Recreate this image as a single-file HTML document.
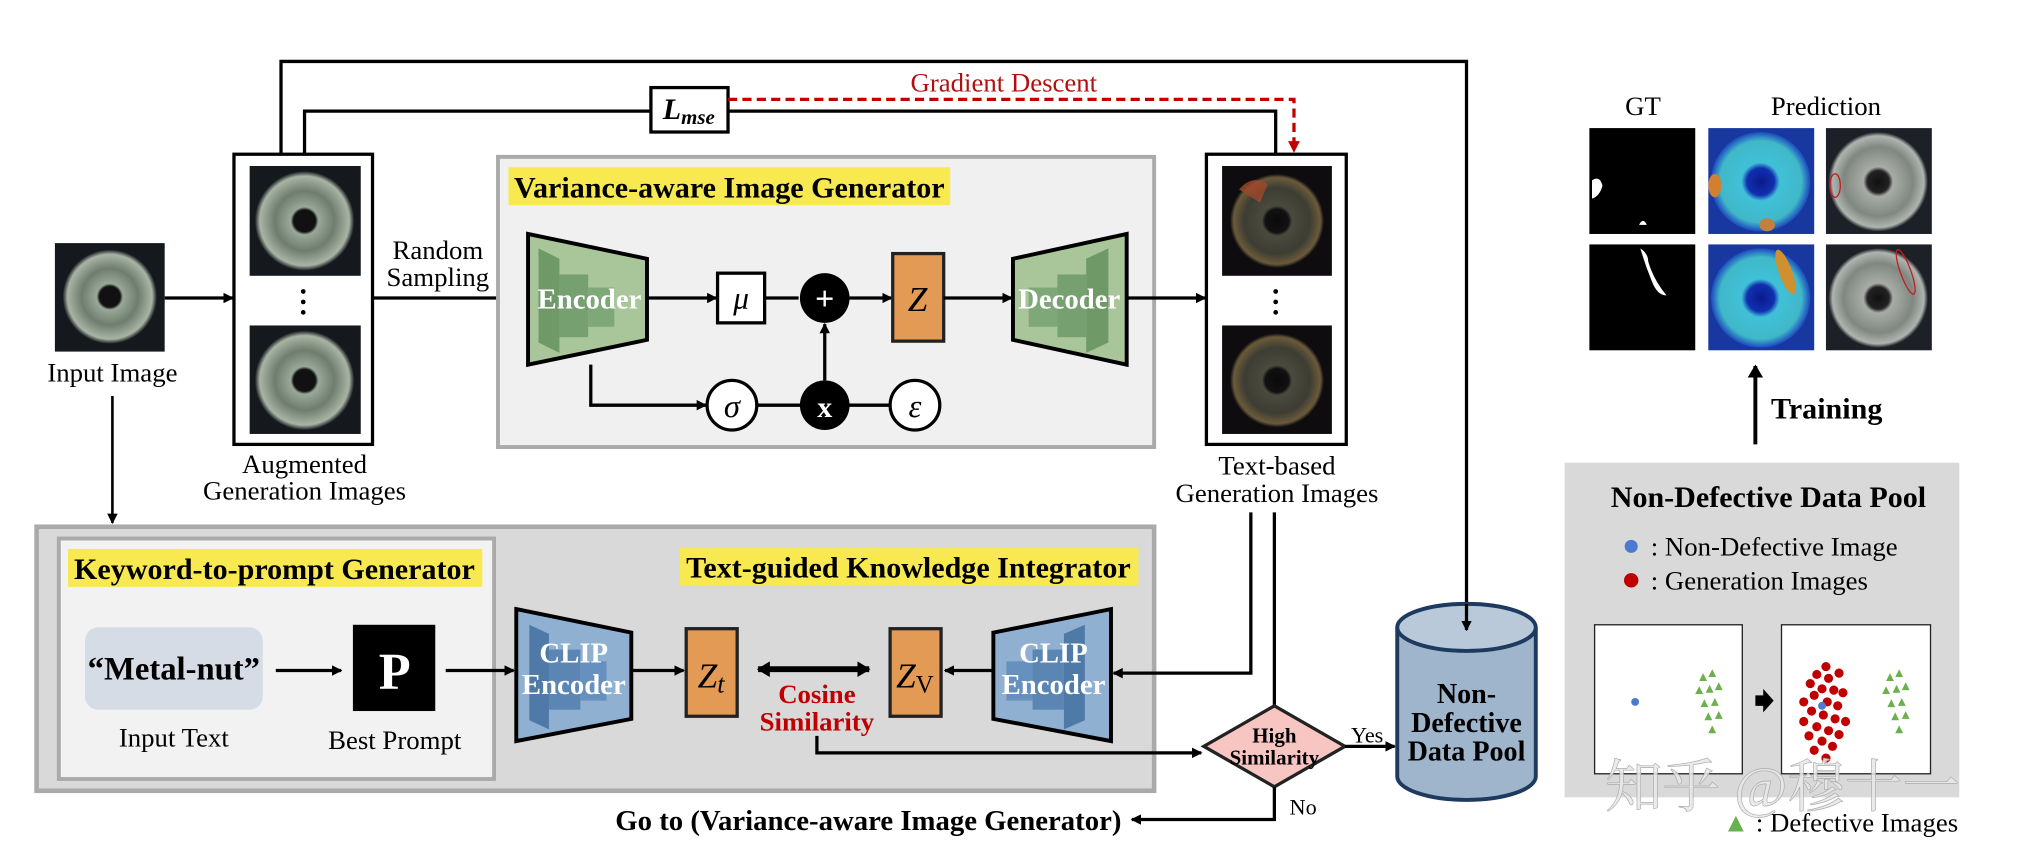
<!DOCTYPE html>
<html><head><meta charset="utf-8"><style>
html,body{margin:0;padding:0;background:#fff;}
svg{display:block;}
text{font-family:"Liberation Serif","Noto Serif CJK SC",serif;}
</style></head><body>
<svg width="2039" height="859" viewBox="0 0 1560 657.2" preserveAspectRatio="none" xmlns="http://www.w3.org/2000/svg">
<defs>
<marker id="ah" markerWidth="8" markerHeight="8" refX="7" refY="4" orient="auto" markerUnits="userSpaceOnUse"><path d="M0,0 L8,4 L0,8 Z" fill="#000"/></marker>
<marker id="ahr" markerWidth="9" markerHeight="9" refX="8" refY="4.5" orient="auto" markerUnits="userSpaceOnUse"><path d="M0,0 L9,4.5 L0,9 Z" fill="#c00000"/></marker>
<marker id="ahb" markerWidth="10" markerHeight="12" refX="9" refY="6" orient="auto" markerUnits="userSpaceOnUse"><path d="M0,0 L10,6 L0,12 Z" fill="#000"/></marker>
<marker id="ahbs" markerWidth="10" markerHeight="12" refX="1" refY="6" orient="auto" markerUnits="userSpaceOnUse"><path d="M10,0 L0,6 L10,12 Z" fill="#000"/></marker>
<radialGradient id="nut" cx="50%" cy="50%" r="50%"><stop offset="0" stop-color="#111"/><stop offset="0.22" stop-color="#111"/><stop offset="0.28" stop-color="#9aa89a"/><stop offset="0.6" stop-color="#6f7d6e"/><stop offset="0.9" stop-color="#a8b4a4"/><stop offset="1" stop-color="#1a1d22"/></radialGradient>
<radialGradient id="nut2" cx="50%" cy="50%" r="50%"><stop offset="0" stop-color="#0a0a0a"/><stop offset="0.25" stop-color="#111"/><stop offset="0.32" stop-color="#4a4a3e"/><stop offset="0.7" stop-color="#3d3d33"/><stop offset="0.92" stop-color="#6b5a3a"/><stop offset="1" stop-color="#0c0c10"/></radialGradient>
<radialGradient id="heat" cx="50%" cy="50%" r="55%"><stop offset="0" stop-color="#0a1a8a"/><stop offset="0.25" stop-color="#1030b0"/><stop offset="0.35" stop-color="#40c0d8"/><stop offset="0.75" stop-color="#40b8c8"/><stop offset="0.9" stop-color="#1f50c0"/><stop offset="1" stop-color="#1838a0"/></radialGradient>
<radialGradient id="ovl" cx="50%" cy="50%" r="50%"><stop offset="0" stop-color="#111"/><stop offset="0.22" stop-color="#222"/><stop offset="0.3" stop-color="#a8aca8"/><stop offset="0.7" stop-color="#808780"/><stop offset="0.92" stop-color="#b0b4b0"/><stop offset="1" stop-color="#22252a"/></radialGradient>
</defs>

<!-- top connectors -->
<polyline points="215,118 215,47 1122,47 1122,470" fill="none" stroke="#000" stroke-width="2.5" marker-end="url(#ah)"/>
<polyline points="233,118 233,85 976,85 976,118" fill="none" stroke="#000" stroke-width="2.5"/>
<rect x="498" y="67" width="59" height="34" fill="#fff" stroke="#000" stroke-width="2.5"/>
<text x="527" y="91" font-size="23" font-weight="bold" font-style="italic" text-anchor="middle">L<tspan font-size="16" dy="4">mse</tspan></text>
<polyline points="557,76 990,76 990,116" fill="none" stroke="#c00000" stroke-width="2.5" stroke-dasharray="7,4" marker-end="url(#ahr)"/>
<text x="768" y="70" font-size="20.5" fill="#b01010" text-anchor="middle">Gradient Descent</text>

<!-- input image -->
<rect x="42" y="186" width="84" height="83" fill="#15181d"/>
<circle cx="84" cy="227" r="36" fill="url(#nut)"/>
<text x="86" y="292" font-size="20.5" text-anchor="middle">Input Image</text>
<line x1="86" y1="303" x2="86" y2="400" stroke="#000" stroke-width="2" marker-end="url(#ah)"/>
<line x1="126" y1="228" x2="178" y2="228" stroke="#000" stroke-width="2.5" marker-end="url(#ah)"/>

<!-- augmented -->
<rect x="179" y="118" width="106" height="222" fill="#fff" stroke="#000" stroke-width="2.5"/>
<rect x="191" y="127" width="85" height="84" fill="#15181d"/><circle cx="233" cy="169" r="38" fill="url(#nut)"/>
<rect x="191" y="249" width="85" height="83" fill="#15181d"/><circle cx="233" cy="291" r="38" fill="url(#nut)"/>
<circle cx="232" cy="223" r="1.8"/><circle cx="232" cy="231" r="1.8"/><circle cx="232" cy="239" r="1.8"/>
<text x="233" y="362" font-size="20.5" text-anchor="middle">Augmented</text>
<text x="233" y="382" font-size="20.5" text-anchor="middle">Generation Images</text>
<text x="335" y="198" font-size="20.5" text-anchor="middle">Random</text>
<text x="335" y="219" font-size="20.5" text-anchor="middle">Sampling</text>
<line x1="285" y1="228" x2="403" y2="228" stroke="#000" stroke-width="2.5" marker-end="url(#ah)"/>

<!-- variance box -->
<rect x="381" y="120" width="502" height="222" fill="#f0f0f0" stroke="#aaa" stroke-width="3"/>
<rect x="389" y="128" width="338" height="29" fill="#f7e94f"/>
<text x="558" y="151" font-size="23" font-weight="bold" text-anchor="middle">Variance-aware Image Generator</text>
<!-- encoder -->
<polygon points="404,179 495,198 495,260 404,279" fill="#a9c59a" stroke="#000" stroke-width="3"/>
<polygon points="412,190 428,198 428,270 412,262" fill="#6f9a68"/>
<rect x="428" y="210" width="22" height="48" fill="#76a070"/><rect x="450" y="220" width="20" height="30" fill="#7ea878"/>
<text x="451" y="236" font-size="22" font-weight="bold" fill="#fff" text-anchor="middle">Encoder</text>
<line x1="495" y1="228" x2="548" y2="228" stroke="#000" stroke-width="2.5" marker-end="url(#ah)"/>
<rect x="549" y="209" width="36" height="38" fill="#fff" stroke="#000" stroke-width="2.5"/>
<text x="567" y="236" font-size="24" font-style="italic" text-anchor="middle">μ</text>
<line x1="585" y1="228" x2="611" y2="228" stroke="#000" stroke-width="2.5"/>
<circle cx="631" cy="228" r="19" fill="#000"/>
<text x="631" y="237" font-size="26" font-weight="bold" fill="#fff" text-anchor="middle">+</text>
<line x1="650" y1="228" x2="682" y2="228" stroke="#000" stroke-width="2.5" marker-end="url(#ah)"/>
<rect x="683" y="194" width="39" height="67" fill="#e29a55" stroke="#222" stroke-width="2.5"/>
<text x="702" y="238" font-size="27" font-style="italic" text-anchor="middle">Z</text>
<line x1="722" y1="228" x2="774" y2="228" stroke="#000" stroke-width="2.5" marker-end="url(#ah)"/>
<!-- decoder -->
<polygon points="775,198 862,179 862,279 775,260" fill="#a9c59a" stroke="#000" stroke-width="3"/>
<rect x="787" y="220" width="22" height="30" fill="#7ea878"/><rect x="809" y="210" width="22" height="48" fill="#76a070"/>
<polygon points="831,198 848,190 848,262 831,270" fill="#6f9a68"/>
<text x="818" y="236" font-size="22" font-weight="bold" fill="#fff" text-anchor="middle">Decoder</text>
<line x1="862" y1="228" x2="922" y2="228" stroke="#000" stroke-width="2.5" marker-end="url(#ah)"/>
<!-- sigma row -->
<polyline points="452,279 452,310 540,310" fill="none" stroke="#000" stroke-width="2.5" marker-end="url(#ah)"/>
<line x1="579" y1="310" x2="681" y2="310" stroke="#000" stroke-width="2.5"/>
<line x1="631" y1="291" x2="631" y2="248" stroke="#000" stroke-width="2.5" marker-end="url(#ah)"/>
<circle cx="560" cy="310" r="19" fill="#fff" stroke="#000" stroke-width="2.5"/>
<text x="560" y="319" font-size="25" font-style="italic" text-anchor="middle">σ</text>
<circle cx="631" cy="310" r="19" fill="#000"/>
<text x="631" y="319" font-size="23" font-weight="bold" fill="#fff" text-anchor="middle">x</text>
<circle cx="700" cy="310" r="19" fill="#fff" stroke="#000" stroke-width="2.5"/>
<text x="700" y="319" font-size="25" font-style="italic" text-anchor="middle">ε</text>

<!-- text-based -->
<rect x="923" y="118" width="107" height="222" fill="#fff" stroke="#000" stroke-width="2.5"/>
<rect x="935" y="127" width="84" height="84" fill="#0e0c0e"/><circle cx="977" cy="169" r="36" fill="url(#nut2)"/>
<path d="M948,145 q10,-12 22,-4 l-6,14 z" fill="#a0482a" opacity="0.8"/>
<rect x="935" y="249" width="84" height="83" fill="#0e0c0e"/><circle cx="977" cy="291" r="36" fill="url(#nut2)"/>
<circle cx="976" cy="223" r="1.8"/><circle cx="976" cy="231" r="1.8"/><circle cx="976" cy="239" r="1.8"/>
<text x="977" y="363" font-size="20.5" text-anchor="middle">Text-based</text>
<text x="977" y="384" font-size="20.5" text-anchor="middle">Generation Images</text>

<!-- right top panel -->
<text x="1257" y="88" font-size="20.5" text-anchor="middle">GT</text>
<text x="1397" y="88" font-size="20.5" text-anchor="middle">Prediction</text>
<rect x="1216" y="98" width="81" height="81" fill="#000"/>
<path d="M1218,138 q6,-4 8,4 q-2,8 -8,10 z M1254,172 q3,-6 6,0 z" fill="#fff"/>
<rect x="1307" y="98" width="81" height="81" fill="#1838a0"/><circle cx="1347" cy="139" r="38" fill="url(#heat)"/>
<ellipse cx="1312" cy="142" rx="5" ry="9" fill="#d08030"/><ellipse cx="1352" cy="172" rx="6" ry="5" fill="#c08040"/>
<rect x="1397" y="98" width="81" height="81" fill="#1d2026"/><circle cx="1437" cy="139" r="38" fill="url(#ovl)"/>
<ellipse cx="1404" cy="142" rx="4" ry="9" fill="none" stroke="#c02020" stroke-width="1"/>
<rect x="1216" y="187" width="81" height="81" fill="#000"/>
<path d="M1255,190 q6,4 6,10 q4,14 14,26 q-6,0 -10,-8 q-6,-14 -10,-28 z" fill="#fff"/>
<rect x="1307" y="187" width="81" height="81" fill="#1838a0"/><circle cx="1347" cy="228" r="38" fill="url(#heat)"/>
<ellipse cx="1366" cy="208" rx="5" ry="18" fill="#d09030" transform="rotate(-20 1366 208)"/>
<rect x="1397" y="187" width="81" height="81" fill="#1d2026"/><circle cx="1437" cy="228" r="38" fill="url(#ovl)"/>
<ellipse cx="1458" cy="208" rx="4" ry="18" fill="none" stroke="#c02020" stroke-width="1" transform="rotate(-20 1458 208)"/>
<line x1="1343" y1="340" x2="1343" y2="280" stroke="#000" stroke-width="3" marker-end="url(#ahb)"/>
<text x="1355" y="320" font-size="23" font-weight="bold">Training</text>

<!-- data pool panel -->
<rect x="1197" y="354" width="302" height="256" fill="#d9d9d9"/>
<text x="1353" y="388" font-size="23" font-weight="bold" text-anchor="middle">Non-Defective Data Pool</text>
<circle cx="1248" cy="418" r="5" fill="#4a7bd0"/>
<text x="1263" y="425" font-size="20.5">: Non-Defective Image</text>
<circle cx="1248" cy="444" r="5.5" fill="#c00000"/>
<text x="1263" y="451" font-size="20.5">: Generation Images</text>
<rect x="1220" y="478" width="113" height="114" fill="#fff" stroke="#222" stroke-width="1"/>
<rect x="1363" y="478" width="114" height="114" fill="#fff" stroke="#222" stroke-width="1"/>
<circle cx="1251" cy="537" r="3" fill="#4a7bd0"/>
<g fill="#6ab04c">
<path d="M1303,515 l3,6 h-6z M1310,512 l3,6 h-6z M1300,525 l3,6 h-6z M1308,524 l3,6 h-6z M1315,522 l3,6 h-6z M1304,535 l3,6 h-6z M1312,534 l3,6 h-6z M1307,545 l3,6 h-6z M1315,544 l3,6 h-6z M1310,555 l3,6 h-6z"/>
<path d="M1446,515 l3,6 h-6z M1453,512 l3,6 h-6z M1443,525 l3,6 h-6z M1451,524 l3,6 h-6z M1458,522 l3,6 h-6z M1447,535 l3,6 h-6z M1455,534 l3,6 h-6z M1450,545 l3,6 h-6z M1458,544 l3,6 h-6z M1453,555 l3,6 h-6z"/>
</g>
<path d="M1343,532 h6 v-5 l8,9 l-8,9 v-5 h-6z" fill="#000"/>
<g fill="#c00000">
<circle cx="1397" cy="510" r="3.5"/><circle cx="1390" cy="516" r="3.5"/><circle cx="1399" cy="519" r="3.5"/><circle cx="1385" cy="523" r="3.5"/><circle cx="1394" cy="527" r="3.5"/><circle cx="1403" cy="528" r="3.5"/>
<circle cx="1388" cy="532" r="3.5"/><circle cx="1380" cy="537" r="3.5"/><circle cx="1398" cy="537" r="3.5"/><circle cx="1406" cy="540" r="3.5"/><circle cx="1386" cy="544" r="3.5"/><circle cx="1395" cy="547" r="3.5"/>
<circle cx="1404" cy="550" r="3.5"/><circle cx="1412" cy="552" r="3.5"/><circle cx="1380" cy="552" r="3.5"/><circle cx="1390" cy="556" r="3.5"/><circle cx="1399" cy="559" r="3.5"/><circle cx="1407" cy="562" r="3.5"/>
<circle cx="1384" cy="563" r="3.5"/><circle cx="1394" cy="567" r="3.5"/><circle cx="1402" cy="571" r="3.5"/><circle cx="1388" cy="574" r="3.5"/><circle cx="1397" cy="580" r="3.5"/><circle cx="1407" cy="515" r="3.5"/><circle cx="1410" cy="530" r="3.5"/>
</g>
<circle cx="1394" cy="540" r="3" fill="#4a7bd0"/>
<text x="1318" y="636" font-size="20.5"><tspan fill="#6ab04c">▲</tspan> : Defective Images</text>
<text x="1228" y="617" font-size="44" fill="#e8e8e8" fill-opacity="0.85" stroke="#aaa" stroke-width="0.5" font-family="'Noto Sans CJK SC',sans-serif">知乎 @穆十一</text>

<!-- bottom box -->
<rect x="28" y="403" width="855" height="202" fill="#d9d9d9" stroke="#aaa" stroke-width="3.5"/>
<rect x="45" y="412" width="333" height="184" fill="#f2f2f2" stroke="#aaa" stroke-width="3"/>
<rect x="52" y="420" width="317" height="29" fill="#f7e94f"/>
<text x="210" y="443" font-size="23" font-weight="bold" text-anchor="middle">Keyword-to-prompt Generator</text>
<rect x="520" y="419" width="351" height="29" fill="#f7e94f"/>
<text x="695" y="442" font-size="23" font-weight="bold" text-anchor="middle">Text-guided Knowledge Integrator</text>
<rect x="65" y="480" width="136" height="63" rx="10" fill="#d6dce5"/>
<text x="133" y="520" font-size="25" font-weight="bold" text-anchor="middle">“Metal-nut”</text>
<text x="133" y="571" font-size="20.5" text-anchor="middle">Input Text</text>
<line x1="211" y1="513" x2="261" y2="513" stroke="#000" stroke-width="2.5" marker-end="url(#ah)"/>
<rect x="270" y="478" width="63" height="66" fill="#000"/>
<text x="302" y="527" font-size="40" font-weight="bold" fill="#fff" text-anchor="middle">P</text>
<text x="302" y="573" font-size="20.5" text-anchor="middle">Best Prompt</text>
<line x1="341" y1="513" x2="393" y2="513" stroke="#000" stroke-width="2.5" marker-end="url(#ah)"/>
<polygon points="395,466 483,484 483,550 395,567" fill="#8fb0d0" stroke="#000" stroke-width="3"/>
<polygon points="405,478 420,485 420,558 405,551" fill="#4f7aa8"/><rect x="420" y="497" width="24" height="46" fill="#5b86b4"/><rect x="444" y="506" width="20" height="30" fill="#6690bd"/>
<text x="439" y="507" font-size="22" font-weight="bold" fill="#fff" text-anchor="middle">CLIP</text>
<text x="439" y="531" font-size="22" font-weight="bold" fill="#fff" text-anchor="middle">Encoder</text>
<line x1="484" y1="513" x2="523" y2="513" stroke="#000" stroke-width="2.5" marker-end="url(#ah)"/>
<rect x="525" y="481" width="39" height="67" fill="#e29a55" stroke="#222" stroke-width="2.5"/>
<text x="544" y="526" font-size="27" font-style="italic" text-anchor="middle">Z<tspan font-size="20" dy="4">t</tspan></text>
<line x1="580" y1="512" x2="665" y2="512" stroke="#000" stroke-width="4.5" marker-end="url(#ahb)" marker-start="url(#ahbs)"/>
<rect x="681" y="481" width="39" height="67" fill="#e29a55" stroke="#222" stroke-width="2.5"/>
<text x="700" y="526" font-size="27" font-style="italic" text-anchor="middle">Z<tspan font-size="19" font-style="normal" dy="4">V</tspan></text>
<text x="625" y="538" font-size="20.5" font-weight="bold" fill="#c00000" text-anchor="middle">Cosine</text>
<text x="625" y="559" font-size="20.5" font-weight="bold" fill="#c00000" text-anchor="middle">Similarity</text>
<polygon points="760,484 850,466 850,567 760,550" fill="#8fb0d0" stroke="#000" stroke-width="3"/>
<rect x="770" y="506" width="20" height="30" fill="#6690bd"/><rect x="790" y="497" width="24" height="46" fill="#5b86b4"/><polygon points="814,485 830,478 830,551 814,558" fill="#4f7aa8"/>
<text x="806" y="507" font-size="22" font-weight="bold" fill="#fff" text-anchor="middle">CLIP</text>
<text x="806" y="531" font-size="22" font-weight="bold" fill="#fff" text-anchor="middle">Encoder</text>
<line x1="760" y1="513" x2="723" y2="513" stroke="#000" stroke-width="2.5" marker-end="url(#ah)"/>

<!-- right connectors -->
<polyline points="957,392 957,515 852,515" fill="none" stroke="#000" stroke-width="2.5" marker-end="url(#ah)"/>
<line x1="975" y1="392" x2="975" y2="540" stroke="#000" stroke-width="2.5"/>
<polyline points="625,563 625,576 919,576" fill="none" stroke="#000" stroke-width="2.5" marker-end="url(#ah)"/>
<polygon points="975,540 1029,571 975,602 921,571" fill="#f7c6c3" stroke="#222" stroke-width="2.5"/>
<text x="975" y="568" font-size="16" font-weight="bold" text-anchor="middle">High</text>
<text x="975" y="585" font-size="16" font-weight="bold" text-anchor="middle">Similarity</text>
<line x1="1029" y1="571" x2="1067" y2="571" stroke="#000" stroke-width="2.5" marker-end="url(#ah)"/>
<text x="1046" y="568" font-size="17" text-anchor="middle">Yes</text>
<polyline points="975,602 975,627 866,627" fill="none" stroke="#000" stroke-width="2.5" marker-end="url(#ah)"/>
<text x="997" y="623" font-size="17" text-anchor="middle">No</text>
<text x="858" y="635" font-size="22" font-weight="bold" text-anchor="end">Go to (Variance-aware Image Generator)</text>

<!-- cylinder -->
<path d="M1069,480 L1069,594 A53,18 0 0 0 1175,594 L1175,480" fill="#9fb5cc" stroke="#1f3a5f" stroke-width="3"/>
<ellipse cx="1122" cy="480" rx="53" ry="18" fill="#b9c9da" stroke="#1f3a5f" stroke-width="3"/>
<line x1="1122" y1="462" x2="1122" y2="482" stroke="#000" stroke-width="2.5" marker-end="url(#ah)"/>
<text x="1122" y="538" font-size="21.5" font-weight="bold" text-anchor="middle">Non-</text>
<text x="1122" y="560" font-size="21.5" font-weight="bold" text-anchor="middle">Defective</text>
<text x="1122" y="582" font-size="21.5" font-weight="bold" text-anchor="middle">Data Pool</text>
</svg>
</body></html>
